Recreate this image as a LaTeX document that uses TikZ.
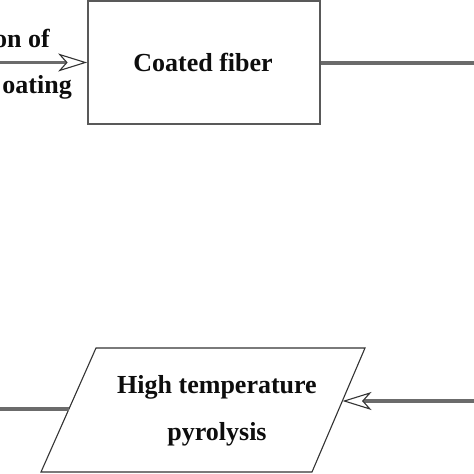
\documentclass[tikz,border=0pt]{standalone}
\usepackage{fontspec}
\setmainfont{Liberation Serif}
\usetikzlibrary{arrows.meta}
\begin{document}
\begin{tikzpicture}[x=1pt,y=-1pt,
  boxstyle/.style={draw=black!65, line width=1.7pt, fill=white, minimum width=232pt, minimum height=123pt, inner sep=0pt},
  lbl/.style={font=\fontsize{26}{47}\selectfont\bfseries, text=black!95, inner sep=0pt},
  link/.style={draw=black!58, line width=3.2pt},
  arr/.style={link, -{Stealth[open, inset=8pt, length=29pt, width=18pt, line width=1.1pt, color=black!80, fill=white]}},
  para/.style={draw=black!80, line width=1.1pt}]
\useasboundingbox (0,0) rectangle (474,474);
% top row
\node[boxstyle] (coated) at (204,62.5) {};
\node[lbl] (ctext) at (203,62.5) {Coated fiber};
\node[lbl, anchor=base east] (t1) at (50,47) {on of};
\node[lbl, anchor=base east] (t2) at (72,93) {oating};
\coordinate (inL) at (0,62.5);
\coordinate (outR) at (474,63);
\draw[arr] (inL) -- (coated.west);
\draw[link] (coated.east |- outR) -- (outR);
% bottom row
\coordinate (p1) at (96,348);
\coordinate (p2) at (365,348);
\coordinate (p3) at (312,472);
\coordinate (p4) at (41,472);
\draw[para] (p1) -- (p2) -- (p3) -- (p4) -- cycle;
\node[lbl, align=center] (pyro) at (217,410.5) {High temperature\\pyrolysis};
\coordinate (botL) at (0,409);
\coordinate (pl) at (69,409);
\coordinate (botR) at (474,401);
\coordinate (pr) at (342.5,401);
\draw[link] (botL) -- (pl);
\draw[arr] (botR) -- (pr);
\end{tikzpicture}
\end{document}
